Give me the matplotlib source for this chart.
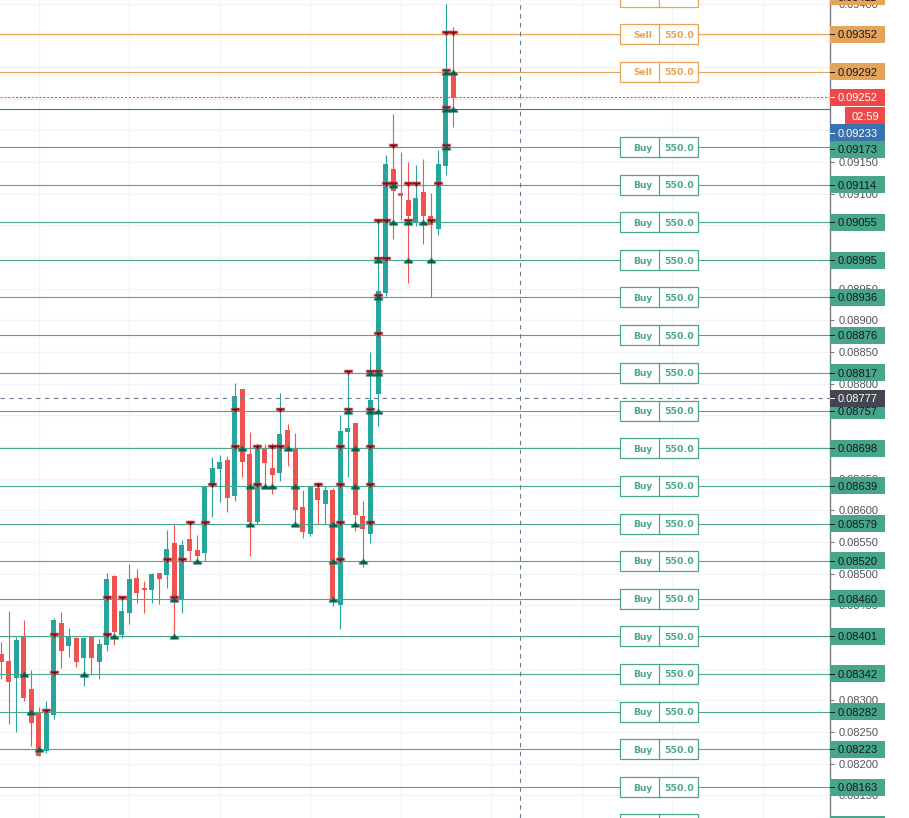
import matplotlib
matplotlib.use('Agg')
import matplotlib.pyplot as plt
import numpy as np
from matplotlib.patches import Rectangle
from matplotlib.path import Path

# candles, prices in 1e-5 units
opens = [8373,8362,8335,8400,8318,8282,8220,8277,8422,8386,8398,8367,8400,8360,8387,8496,8403,8438,8493,8477,8474,8501,8498,8548,8460,8555,8537,8532,8640,8665,8679,8622,8792,8689,8581,8698,8667,8659,8727,8697,8605,8562,8635,8610,8632,8450,8724,8738,8591,8562,8784,8943,9139,9101,9090,9055,9102,9065,9044,9144,9289]
highs = [8392,8441,8400,8427,8348,8289,8299,8430,8439,8414,8400,8400,8400,8397,8501,8498,8458,8515,8507,8488,8501,8501,8569,8578,8553,8585,8561,8637,8684,8687,8686,8801,8792,8724,8706,8705,8706,8785,8736,8722,8632,8637,8645,8638,8635,8750,8821,8738,8615,8850,9055,9161,9226,9166,9150,9145,9155,9101,9169,9399,9363]
lows = [8334,8262,8250,8299,8228,8212,8217,8270,8351,8368,8352,8322,8340,8334,8378,8387,8398,8420,8454,8438,8454,8452,8477,8398,8438,8520,8520,8520,8589,8613,8597,8615,8652,8528,8578,8637,8626,8646,8670,8577,8556,8559,8578,8578,8449,8412,8652,8567,8510,8548,8733,8938,9028,9058,8959,9049,9020,8937,9035,9129,9205]
closes = [8360,8329,8395,8304,8264,8212,8282,8427,8378,8400,8360,8398,8367,8389,8492,8408,8441,8492,8469,8474,8499,8492,8539,8460,8545,8536,8528,8637,8667,8676,8619,8780,8676,8581,8697,8675,8656,8720,8697,8600,8566,8637,8616,8632,8460,8725,8730,8592,8570,8774,8946,9147,9104,9096,9065,9093,9065,9050,9147,9289,9251]

sell_levels = [0.09411,0.09352,0.09292]
buy_levels = [0.09173,0.09114,0.09055,0.08995,0.08936,0.08876,0.08817,0.08757,0.08698,0.08639,0.08579,0.08520,0.08460,0.08401,0.08342,0.08282,0.08223,0.08163,0.08104]
price_ticks = [0.0815,0.082,0.0825,0.083,0.0835,0.084,0.0845,0.085,0.0855,0.086,0.0865,0.087,0.0875,0.088,0.0885,0.089,0.0895,0.09,0.0905,0.091,0.0915,0.092,0.0925,0.093,0.0935,0.094]
grid_bars = [5,17,29,41,53,65,77,89,101]

sell_x = [6,7,7,14,14,16,22,23,24,25,27,28,31,31,34,34,36,37,37,42,45,45,45,45,46,46,49,49,49,49,49,50,50,50,50,50,51,51,51,52,52,54,54,55,57,58,59,59,59,59,60]
sell_y = [8282,8401,8342,8460,8401,8460,8520,8460,8520,8579,8579,8639,8757,8698,8698,8639,8698,8757,8698,8639,8698,8639,8579,8520,8817,8757,8817,8757,8698,8639,8579,8817,8876,8936,8995,9055,9114,9055,8995,9173,9114,9114,9055,9114,9055,9114,9352,9292,9233,9173,9352]
buy_x = [3,4,5,11,15,23,23,26,32,33,33,35,36,38,39,39,44,44,44,46,47,47,47,48,49,49,50,50,50,50,52,52,54,54,56,57,59,59,59,60,60]
buy_y = [8342,8282,8223,8342,8401,8460,8401,8520,8698,8639,8579,8639,8639,8698,8639,8579,8579,8520,8460,8757,8698,8639,8579,8520,8817,8757,8995,8936,8817,8757,9114,9055,9055,8995,9055,8995,9292,9233,9173,9292,9233]

last_price = 0.09252
position_price = 0.09233
cross_price = 0.08777

GREEN = '#26a69a'
RED = '#ef5350'
BUY = '#4ba78a'
SELL = '#e8a35a'
BLUE = '#3a72b0'
GRID = '#f0f3fa'
W, H = 909, 818
AXIS_X = 830
BAR_PX = 7.54
PER_PX = 1 / 63331.0   # price per pixel

opens, highs, lows, closes = [np.array(a) * 1e-5 for a in (opens, highs, lows, closes)]
sell_y = np.array(sell_y) * 1e-5
buy_y = np.array(buy_y) * 1e-5
ytop = 0.09352 + 34 * PER_PX
ybot = 0.09352 - (H - 34) * PER_PX

fig = plt.figure(figsize=(W / 100, H / 100), dpi=100)
ax = fig.add_axes([0, 0, AXIS_X / W, 1])
ax.set_xlim(-1 / BAR_PX, (AXIS_X - 1) / BAR_PX)
ax.set_ylim(ybot, ytop)
for s in ['left', 'top', 'bottom']:
    ax.spines[s].set_visible(False)
ax.spines['right'].set_color('#787b86')
ax.spines['right'].set_linewidth(1.0)
ax.set_xticks(grid_bars)
ax.set_xticklabels([])
ax.set_yticks(price_ticks)
ax.set_yticklabels(['%.5f' % p for p in price_ticks], fontsize=8.0, color='#50535e', family='Liberation Sans')
ax.yaxis.tick_right()
ax.tick_params(axis='x', length=0)
ax.tick_params(axis='y', length=2.9, width=0.72, color='#787b86', pad=3)
ax.grid(True, color=GRID, lw=0.9)
ax.set_axisbelow(True)

idx = np.arange(len(opens))
up = closes >= opens
colors = np.where(up, GREEN, RED)
ax.vlines(idx, lows, highs, colors=colors, lw=0.8, zorder=3)
ax.bar(idx, np.abs(closes - opens), bottom=np.minimum(opens, closes), width=5 / BAR_PX,
       color=colors, lw=0, zorder=3)

for lev in sell_levels:
    ax.axhline(lev, color=SELL, lw=0.8, zorder=4)
for lev in buy_levels:
    ax.axhline(lev, color=BUY, lw=0.8, zorder=4)
ax.axhline(position_price, color=BLUE, lw=0.8, zorder=4)
ax.axhline(last_price, color=RED, lw=0.8, ls=(0, (2, 1.5)), zorder=4)

# fill markers, offsets are built into the path (units = px)
sell_mark = Path([(-4, 3.3), (4, 3.3), (4, 1), (1.6, 1), (0, -1.4), (-1.6, 1), (-4, 1), (-4, 3.3)], closed=True)
buy_mark = Path([(0, 2.4), (1.8, 0), (4, -1), (4, -2.8), (-4, -2.8), (-4, -1), (-1.8, 0), (0, 2.4)], closed=True)
ax.plot(sell_x, sell_y, ls='none', marker=sell_mark, ms=5.76, mfc='#7f0a14',
        mec=(0.8, 0.2, 0.25, 0.4), mew=1.1, zorder=5)
ax.plot(buy_x, buy_y, ls='none', marker=buy_mark, ms=5.76, mfc='#0b5a4c',
        mec=(0.1, 0.5, 0.42, 0.4), mew=1.1, zorder=5)

ax.axvline((520 - 1) / BAR_PX, color='#6a7d90', lw=0.8, ls=(0, (4, 4)), zorder=6)
ax.axhline(cross_price, color='#6a7d90', lw=0.8, ls=(0, (4, 4)), zorder=6)

# order boxes and price tags: x in pixels, y in price
ov = fig.add_axes([0, 0, 1, 1], zorder=5)
ov.set_xlim(0, W)
ov.set_ylim(ybot, ytop)
ov.axis('off')


def order_box(lev, side, color):
    ov.add_patch(Rectangle((620, lev - 10 * PER_PX), 78, 20 * PER_PX, fc='white', ec=color, lw=0.9))
    ov.plot([659, 659], [lev - 10 * PER_PX, lev + 10 * PER_PX], color=color, lw=0.9)
    ov.text(652, lev, side, color=color, fontsize=6.5, weight='bold', ha='right', va='center_baseline')
    ov.text(679, lev, '550.0', color=color, fontsize=6.8, weight='bold', ha='center', va='center_baseline')


def price_tag(center, text, bg, fg, left=AXIS_X - 0.5, tick=True):
    ov.add_patch(Rectangle((left, center - 8.5 * PER_PX), 885 - left, 17 * PER_PX, fc=bg, ec='none'))
    if tick:
        ov.plot([830, 834], [center, center], color=fg, lw=0.72)
        ov.text(838, center, text, color=fg, fontsize=8.0, family='Liberation Sans', ha='left', va='center_baseline')
    else:
        ov.text(865, center, text, color=fg, fontsize=8.0, family='Liberation Sans', ha='center', va='center_baseline')


for lev in sell_levels:
    order_box(lev, 'Sell', SELL)
    price_tag(lev, '%.5f' % lev, '#e6a35c', '#131722')
for lev in buy_levels:
    order_box(lev, 'Buy', BUY)
    tag_y = 0.09170 if lev == 0.09173 else lev
    price_tag(tag_y, '%.5f' % lev, '#47a689', '#131722')

price_tag(last_price, '%.5f' % last_price, '#f04848', 'white')
price_tag(0.09223, '02:59', '#f04848', 'white', left=845, tick=False)
price_tag(0.09196, '%.5f' % position_price, BLUE, 'white')
price_tag(cross_price, '%.5f' % cross_price, '#434651', 'white')

fig.savefig('out.png', dpi=100, facecolor='white')
